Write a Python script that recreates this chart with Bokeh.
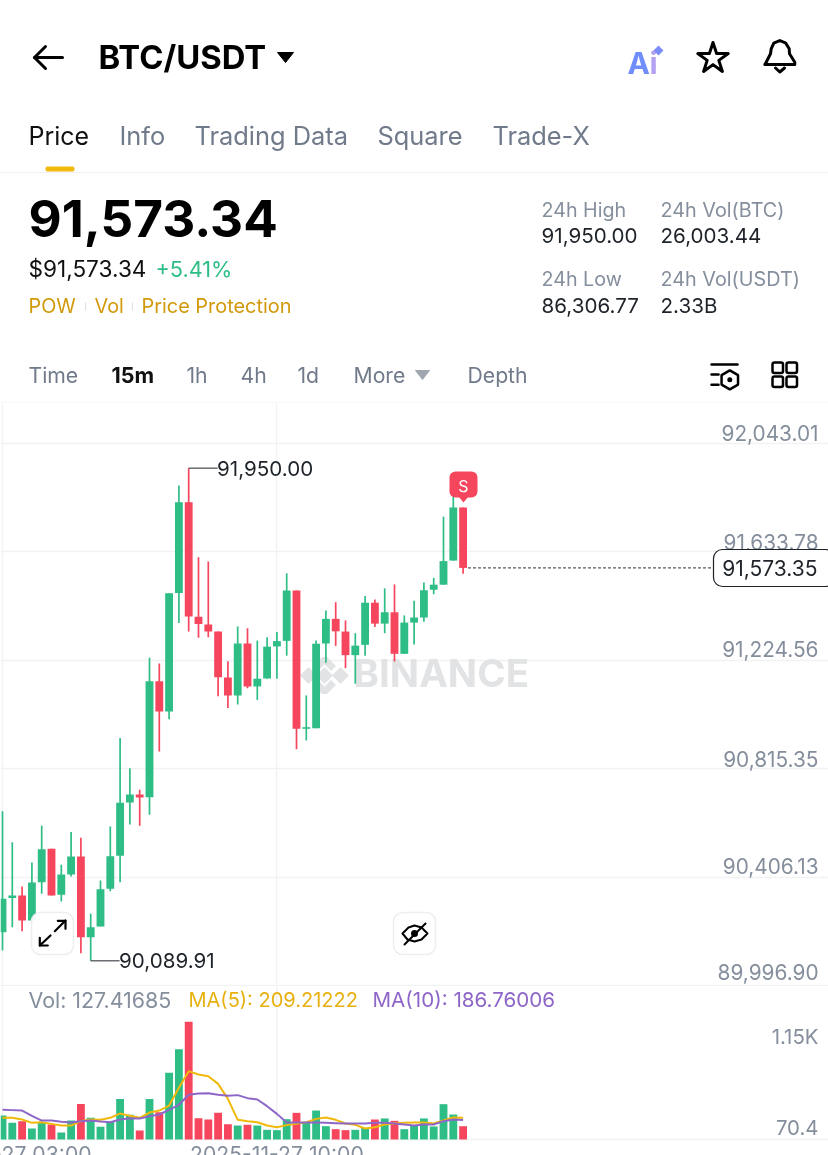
from bokeh.plotting import figure
from bokeh.layouts import column
from bokeh.models import Range1d, Grid, FixedTicker
from bokeh.core.properties import value
from bokeh.embed import file_html
from bokeh.resources import INLINE

opens = [90198,90327,90337,90242,90387,90513,90339,90416,90484,90179,90220,90362,90487,90688,90718,90708,91145,91031,91479,91821,91389,91360,91333,91160,91092,91288,91126,91156,91277,91298,91488,90966,90968,91288,91381,91333,91244,91283,91442,91363,91406,91249,91367,91386,91491,91510,91601,91801]
highs = [90655,90538,90371,90461,90600,90513,90453,90576,90555,90268,90393,90597,90931,90817,90736,91234,91212,91478,91884,91950,91614,91598,91333,91221,91352,91346,91299,91312,91331,91553,91488,91092,91299,91413,91444,91375,91327,91467,91454,91496,91511,91394,91449,91518,91536,91767,91847,91801]
lows = [90129,90217,90202,90231,90343,90337,90314,90408,90119,90089.91,90220,90353,90387,90605,90600,90641,90880,91002,91365,91333,91310,91312,91089,91044,91058,91119,91075,91155,91155,91242,90889,90922,90968,91215,91279,91195,91136,91242,91350,91327,91220,91249,91284,91370,91474,91510,91601,91551]
closes = [90324,90337,90242,90386,90511,90337,90416,90484,90179,90217,90360,90485,90687,90718,90707,91145,91031,91478,91821,91390,91362,91333,91161,91092,91288,91126,91155,91276,91297,91488,90966,90972,91287,91381,91334,91244,91280,91442,91363,91406,91249,91367,91386,91489,91510,91599,91801,91573.35]
volumes = [230,160,176,106,160,144,67,182,342,208,122,170,390,237,86,390,262,640,867,1130,205,192,256,147,134,141,134,93,90,195,256,166,278,128,99,90,93,112,192,202,179,99,134,202,125,339,240,127.41685]
ma5 = [208,208,192,160,166,150,134,134,176,192,189,208,250,227,208,259,278,326,496,656,624,608,534,390,189,176,166,134,118,138,150,166,198,211,189,154,141,106,118,144,157,160,163,163,154,182,211,209.21222]
ma10 = [285,282,278,227,182,182,170,163,176,182,173,166,192,205,202,224,240,285,333,429,442,445,429,419,426,397,384,320,246,163,163,163,163,160,157,154,154,154,160,160,154,144,134,144,144,176,192,186.76006]
price_ticks = [92043.01,91633.78,91224.56,90815.35,90406.13,89996.90]
price_tick_labels = ["92,043.01","91,633.78","91,224.56","90,815.35","90,406.13","89,996.90"]
vol_tick_labels = ["1.15K","70.4"]
vol_ticks = [1150,70.4]
time_ticks = [0,28]
time_labels = ["2025-11-27 03:00","2025-11-27 10:00"]
last_price = 91573.35
high_price = 91950.00
low_price = 90089.91

FONT = "Inter"
GREEN, RED = "#2EBD85", "#F6465D"
GRAY, DARK = "#848E9C", "#1E2329"
GRID = "#F1F2F3"
xs = list(range(len(opens)))
colors = [GREEN if c >= o else RED for o, c in zip(opens, closes)]

XR = Range1d(-2/9.8, 826/9.8)

def T(p, x, y, s, size, color=DARK, bold=False, align="left", y_offset=0, **kw):
    p.text(x=[x], y=[y], text=[s], text_font=value(FONT), text_font_size=f"{size}px",
           text_color=color, text_align=align, text_baseline="middle",
           x_offset=-1 if align == "left" else 0, y_offset=y_offset - 1,
           text_font_style="bold" if bold else "normal", **kw)

def L(p, xv, yv, color="#000000", w=3, **kw):
    p.line(xv, yv, line_color=color, line_width=w, line_cap="round", line_join="round", **kw)

def fig(h, xr, yr):
    f = figure(width=828, height=h, x_range=xr, y_range=yr, output_backend="svg", toolbar_location=None,
               min_border=0, outline_line_color=None, background_fill_color="#FFFFFF", border_fill_color="#FFFFFF")
    f.axis.visible = False
    f.grid.visible = False
    return f

# ---------- header ----------
h = fig(403, Range1d(0, 828), Range1d(403, 0))
L(h, [34, 62], [57, 57]); L(h, [45, 34, 45], [46, 57, 68])
T(h, 99, 57, "BTC/USDT", 32.8, "#000000", True)
h.patch([277, 293, 285], [52, 52, 62], fill_color="#000000", line_color="#000000", line_join="round")
T(h, 628, 63, "A", 30, "#6F8DFD", True)
T(h, 650, 63, "i", 30, "#B3A2F2", True)
h.scatter([658], [50], marker="square", angle=0.785, size=7, fill_color="#7C8CF8", line_color=None)
h.scatter([712.5], [58], marker="star", size=32, fill_color=None, line_color="#000000", line_width=3, line_join="round")
L(h, [764.3,765.7,770,770.7,773.3,779.3,785.3,788.7,789,794.3,794.3,764.3], [64,61.7,53.3,48.3,42.7,40,42.7,48.3,53.3,61.7,64,64])
L(h, [775,779.3,784], [67.5,71.5,67.5])

T(h, 29, 136, "Price", 25, "#111111")
for x, s in [(120, "Info"), (195, "Trading Data"), (378, "Square"), (493, "Trade-X")]:
    T(h, x, 136, s, 25.4, "#707A8A")
h.quad(left=[45], right=[74], top=[166], bottom=[171], fill_color="#F0B90B", line_color=None, border_radius=2)
h.segment([0], [172], [828], [172], line_color="#F0F1F2", line_width=1)

T(h, 29, 219, "91,573.34", 51.2, "#000000", True)
T(h, 29, 269, "$91,573.34", 22.6, "#111111")
T(h, 156, 269, "+5.41%", 21.7, GREEN)
T(h, 29, 306, "POW", 19.8, "#D29A0B")
T(h, 95, 306, "Vol", 19.8, "#D29A0B")
T(h, 142, 306, "Price Protection", 19.9, "#D29A0B")
h.segment([85, 132], [302, 302], [85, 132], [310, 310], line_color="#DADDE1", line_width=1)

for x, yy, s, c, z in [(542, 210, "24h High", GRAY, 19.7), (542, 236, "91,950.00", DARK, 20.6), (661, 210, "24h Vol(BTC)", GRAY, 19.8), (661, 236, "26,003.44", DARK, 20.6),
                       (542, 279, "24h Low", GRAY, 19.7), (542, 306, "86,306.77", DARK, 20.6), (661, 279, "24h Vol(USDT)", GRAY, 19.8), (661, 306, "2.33B", DARK, 20.6)]:
    T(h, x, yy, s, z, c)

for x, s, c in [(29, "Time", "#707A8A"), (187, "1h", "#707A8A"), (241, "4h", "#707A8A"),
                (298, "1d", "#707A8A"), (354, "More", "#707A8A"), (468, "Depth", "#707A8A")]:
    T(h, x, 375, s, 21.2, c)
T(h, 112, 375, "15m", 21.5, "#111111", True)
h.patch([415, 429, 422], [370, 370, 379], fill_color="#A0A6AF", line_color="#A0A6AF", line_join="round")
L(h, [711, 737], [364, 364], w=2.5); L(h, [711, 718], [374, 374], w=2.5); L(h, [711, 718], [384.3, 384.3], w=2.5)
h.scatter([729.3], [379.3], marker="hex", size=19, fill_color=None, line_color="#000000", line_width=2.5, angle=1.5708)
h.scatter([729.3], [379.3], marker="circle", size=5, fill_color="#000000", line_color=None)
h.quad(left=[772, 786, 772, 786], right=[782.5, 796.5, 782.5, 796.5], top=[362, 362, 376, 376], bottom=[372.5, 372.5, 386.5, 386.5],
       fill_color=None, line_color="#000000", line_width=2.5, border_radius=2)
h.segment([0], [403], [828], [403], line_color=GRID, line_width=2)

# ---------- price chart ----------
TOP = 92043.01 + 40*3.7752
p = fig(583, XR, Range1d(TOP - 583*3.7752, TOP))
p.extra_x_ranges["px"] = Range1d(0, 828)
p.extra_y_ranges["py"] = Range1d(986, 403)
pr = dict(x_range_name="px", y_range_name="py")
p.add_layout(Grid(dimension=1, ticker=FixedTicker(ticks=price_ticks), grid_line_color=GRID, grid_line_width=1.4))
p.add_layout(Grid(dimension=0, ticker=FixedTicker(ticks=time_ticks), grid_line_color=GRID, grid_line_width=1.4))

# watermark
wm = "#E2E3E4"
T(p, 354, 673, "BINANCE", 38.5, wm, True, **pr)
p.scatter([324, 308, 340], [675, 675, 675], marker="square", angle=0.785, size=[12, 12, 12], fill_color=wm, line_color=None, **pr)
p.line([315, 324, 333], [668, 659, 668], line_color=wm, line_width=7, **pr)
p.line([315, 324, 333], [682, 691, 682], line_color=wm, line_width=7, **pr)

p.segment(xs, highs, xs, lows, line_color=colors, line_width=1.7)
p.vbar(x=xs, top=[max(a, b) for a, b in zip(opens, closes)], bottom=[min(a, b) for a, b in zip(opens, closes)],
       width=0.8, fill_color=colors, line_color=None)

for i, yv, s in [(19, high_price, "91,950.00"), (9, low_price, "90,089.91")]:
    p.segment([i], [yv], [i + 2.95], [yv], line_color=DARK, line_width=1)
    T(p, i + 3.0, yv, s, 20.6, DARK, y_offset=1)

for t, s, off in zip(price_ticks, price_tick_labels, [-11, -10, -11, -10, -11, -13]):
    T(p, 818, t, s, 20.8, GRAY, align="right", x_range_name="px", y_offset=off + 1)

# last-price tag
p.segment([47.5], [last_price], [72.5], [last_price], line_color="#333333", line_width=1, line_dash="3 2")
p.quad(left=[713], right=[834], top=[549], bottom=[586], fill_color="#FFFFFF", line_color="#1E2329", line_width=1.2,
       border_radius=9, **pr)
T(p, 817, last_price, "91,573.35", 21, DARK, align="right", x_range_name="px", y_offset=1)

# sell marker
p.quad(left=[449], right=[477], top=[471], bottom=[497], fill_color=RED, line_color=None, border_radius=6, **pr)
p.patch([458, 468, 463], [496, 496, 502], fill_color=RED, line_color=None, **pr)
T(p, 463, 485, "S", 16, "#FFFFFF", align="center", y_offset=1, **pr)

# buttons
p.quad(left=[31, 393], right=[73, 435], top=[912, 912], bottom=[954, 954], fill_color="#FFFFFF", fill_alpha=0.95,
       line_color="#EDEEF0", line_width=1.5, border_radius=9, **pr)
L(p, [54.3, 65], [930.7, 920], w=2.2, **pr); L(p, [57.3, 65, 65], [920.3, 920.3, 928.3], w=2.2, **pr)
L(p, [50, 39.3], [935, 945], w=2.2, **pr); L(p, [39.3, 39.3, 47.3], [937.3, 945, 945], w=2.2, **pr)
L(p, [402, 408, 414, 421, 427, 421, 414, 407, 402], [933, 927, 925, 927, 933, 939, 941, 939, 933], w=2, **pr)
p.scatter([414], [933], marker="circle", size=7, fill_color="#000000", line_color=None, **pr)
L(p, [404, 425], [944, 923], w=2, **pr)

# ---------- volume ----------
v = fig(169, XR, Range1d(-16*9.6, 153*9.6))
v.extra_x_ranges["px"] = Range1d(0, 828)
v.extra_y_ranges["py"] = Range1d(1155, 986)
v.segment(time_ticks, [0, 0], time_ticks, [153*9.6, 153*9.6], line_color=GRID, line_width=1.4)
v.segment([-1], [0], [85], [0], line_color=GRID, line_width=1.4)
v.vbar(x=xs, top=volumes, bottom=0, width=0.8, fill_color=colors, line_color=None)
v.line(xs, ma5, line_color="#F0B90B", line_width=2)
v.line(xs, ma10, line_color="#8E66C8", line_width=2)

T(v, 29, 1000, "Vol: 127.41685", 21.4, GRAY, **pr)
T(v, 189, 1000, "MA(5): 209.21222", 20, "#E8B00F", **pr)
T(v, 373, 1000, "MA(10): 186.76006", 20.6, "#8E66C8", **pr)
for t, s, off in zip(vol_ticks, vol_tick_labels, [18, -4]):
    T(v, 818, t, s, 20.4, GRAY, align="right", x_range_name="px", y_offset=off)
for t, s in zip(time_ticks, time_labels):
    T(v, t, -145, s, 21.2, GRAY, align="center")

page = column(h, p, v, spacing=0, styles={"position": "fixed", "left": "0px", "top": "0px"})
open("out.html", "w").write(file_html(page, INLINE))
